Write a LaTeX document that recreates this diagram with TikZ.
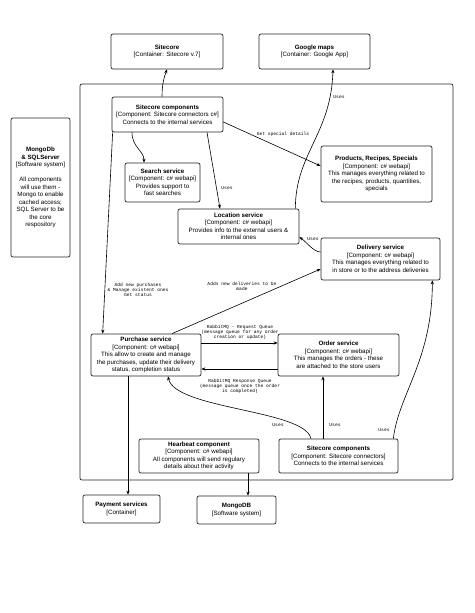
\documentclass[tikz,border=0pt]{standalone}
\usepackage{fontspec}
\setmainfont{Liberation Sans}
\setmonofont{Liberation Mono}
\usetikzlibrary{arrows.meta, positioning}
\tikzstyle{box} = [rectangle, rounded corners=2pt, draw=black!85, fill=white, line width=0.7pt, align=center, inner sep=1pt, font=\fontsize{6.2}{7.5}\selectfont]
\tikzstyle{boundary} = [rounded corners=2pt, draw=black!85, line width=0.7pt]
\tikzstyle{arrow} = [line width=0.6pt, ->, >={Stealth[length=4pt,width=3.2pt]}]
\tikzstyle{lbl} = [align=center, inner sep=0pt, font=\fontsize{4.6}{5}\selectfont\ttfamily]

\begin{document}
\begin{tikzpicture}[x=1pt, y=-1pt]
        \useasboundingbox (0,0) rectangle (474,613);
        \draw [boundary] (80,84) rectangle (453,480);

        \node (sitecore) [box, minimum width=112pt, minimum height=35pt] at (167,51.5) {\textbf{Sitecore}\\{[Container: Sitecore v.7]}};
        \node (gmaps) [box, minimum width=111pt, minimum height=35pt] at (314.5,51.5) {\textbf{Google maps}\\{[Container: Google App]}};
        \node (mongosql) [box, minimum width=59pt, minimum height=139pt] at (40.5,187.5) {\textbf{MongoDb}\\\textbf{\& SQLServer}\\{[Software system]}\\[7.5pt]All components\\will use them -\\Mongo to enable\\cached access;\\SQL Server to be\\the core\\respository};
        \node (sccomp) [box, minimum width=111pt, minimum height=35pt] at (167.5,114.5) {\textbf{Sitecore components}\\{[Component: Sitecore connectors c\#]}\\Connects to the internal services};
        \node (search) [box, minimum width=75pt, minimum height=39pt] at (162.5,182.5) {\textbf{Search service}\\{[Component: c\# webapi]}\\Provides support to\\fast searches};
        \node (location) [box, minimum width=121pt, minimum height=35pt] at (238.5,226.5) {\textbf{Location service}\\{[Component: c\# webapi]}\\Provides info to the external users \&\\internal ones};
        \node (products) [box, minimum width=111pt, minimum height=56pt] at (376.5,174) {\textbf{Products, Recipes, Specials}\\{[Component: c\# webapi]}\\This manages everything related to\\the recipes, products, quantities,\\specials};
        \node (delivery) [box, minimum width=119pt, minimum height=42pt] at (380.5,259) {\textbf{Delivery service}\\{[Component: c\# webapi]}\\This manages everything related to\\in store or to the address deliveries};
        \node (purchase) [box, minimum width=110pt, minimum height=42pt] at (146,355) {\textbf{Purchase service}\\{[Component: c\# webapi]}\\This allow to create and manage\\the purchases, update their delivery\\status, completion status};
        \node (order) [box, minimum width=121pt, minimum height=42pt] at (338.5,355) {\textbf{Order service}\\{[Component: c\# webapi]}\\This manages the orders - these\\are attached to the store users};
        \node (heartbeat) [box, minimum width=120pt, minimum height=34pt] at (199,456) {\textbf{Hearbeat component}\\{[Component: c\# webapi]}\\All components will send regulary\\details about their activity};
        \node (scbottom) [box, minimum width=119pt, minimum height=34pt] at (338.5,456) {\textbf{Sitecore components}\\{[Component: Sitecore connectors]}\\Connects to the internal services};
        \node (payment) [box, minimum width=77pt, minimum height=28pt] at (121.5,509) {\textbf{Payment services}\\{[Container]}};
        \node (mongodb) [box, minimum width=79pt, minimum height=28pt] at (236.5,510) {\textbf{MongoDB}\\{[Software system]}};

        \draw [arrow] ([xshift=-5.5pt]sccomp.north) .. controls +(0,-12) and +(-3,8) .. (sitecore.south);
        \draw [arrow] ([xshift=-4pt]location.north east) .. controls +(0,-55) and +(-2,65) .. ([xshift=18.5pt]gmaps.south);
        \draw [arrow] ([yshift=-7.5pt]sccomp.east) -- ([yshift=8pt]products.west);
        \draw [arrow] ([xshift=39.5pt]sccomp.south) -- ([xshift=-18.5pt]location.north);
        \draw [arrow] ([xshift=-35.5pt]sccomp.south) .. controls +(0,15) and +(0,-12) .. ([xshift=-18.5pt]search.north);
        \draw [arrow] ([xshift=1pt]sccomp.south west) -- ([xshift=12pt]purchase.north west);
        \draw [arrow] ([yshift=7pt]delivery.west) .. controls +(-7,0) and +(7,5) .. ([yshift=-10.5pt]location.east);
        \draw [arrow] ([xshift=26pt]purchase.north) -- ([yshift=-10pt]delivery.west);
        \draw [arrow] ([yshift=12pt]purchase.east) -- ([yshift=12pt]order.west);
        \draw [arrow] ([yshift=-14pt]order.west) -- ([yshift=-14pt]purchase.east);
        \draw [arrow] ([xshift=-27.5pt]scbottom.north) .. controls +(-6,-29) and +(7,33) .. ([xshift=22pt]purchase.south);
        \draw [arrow] ([xshift=-15.5pt]scbottom.north) -- ([xshift=-15.5pt]order.south);
        \draw [arrow] ([xshift=-5pt]scbottom.north east) .. controls +(5,-44) and +(0,80) .. ([xshift=-8pt]delivery.south east);
        \draw [arrow] ([xshift=-18pt]purchase.south) -- ([xshift=6.5pt]payment.north);
        \draw [arrow] ([xshift=49pt]heartbeat.south) -- ([xshift=11.5pt]mongodb.north);

        \node (l1) [lbl] at (339,97) {Uses};
        \node (l2) [lbl] at (283,134) {Get special details};
        \node (l3) [lbl] at (227,188) {Uses};
        \node (l4) [lbl] at (313,239) {Uses};
        \node (l5) [lbl] at (138,290) {Add new purchases\\\& Manage existent ones\\Get status};
        \node (l6) [lbl] at (242,286.5) {Adds new deliveries to be\\made};
        \node (l7) [lbl] at (240,332) {RabbitMQ - Request Queue\\(message queue for any order\\creation or update)};
        \node (l8) [lbl] at (240,386) {RabbitMQ Response Queue\\(message queue once the order\\is completed)};
        \node (l9) [lbl] at (278,425) {Uses};
        \node (l10) [lbl] at (335,425) {Uses};
        \node (l11) [lbl] at (384,430) {Uses};
    \end{tikzpicture}
\end{document}
